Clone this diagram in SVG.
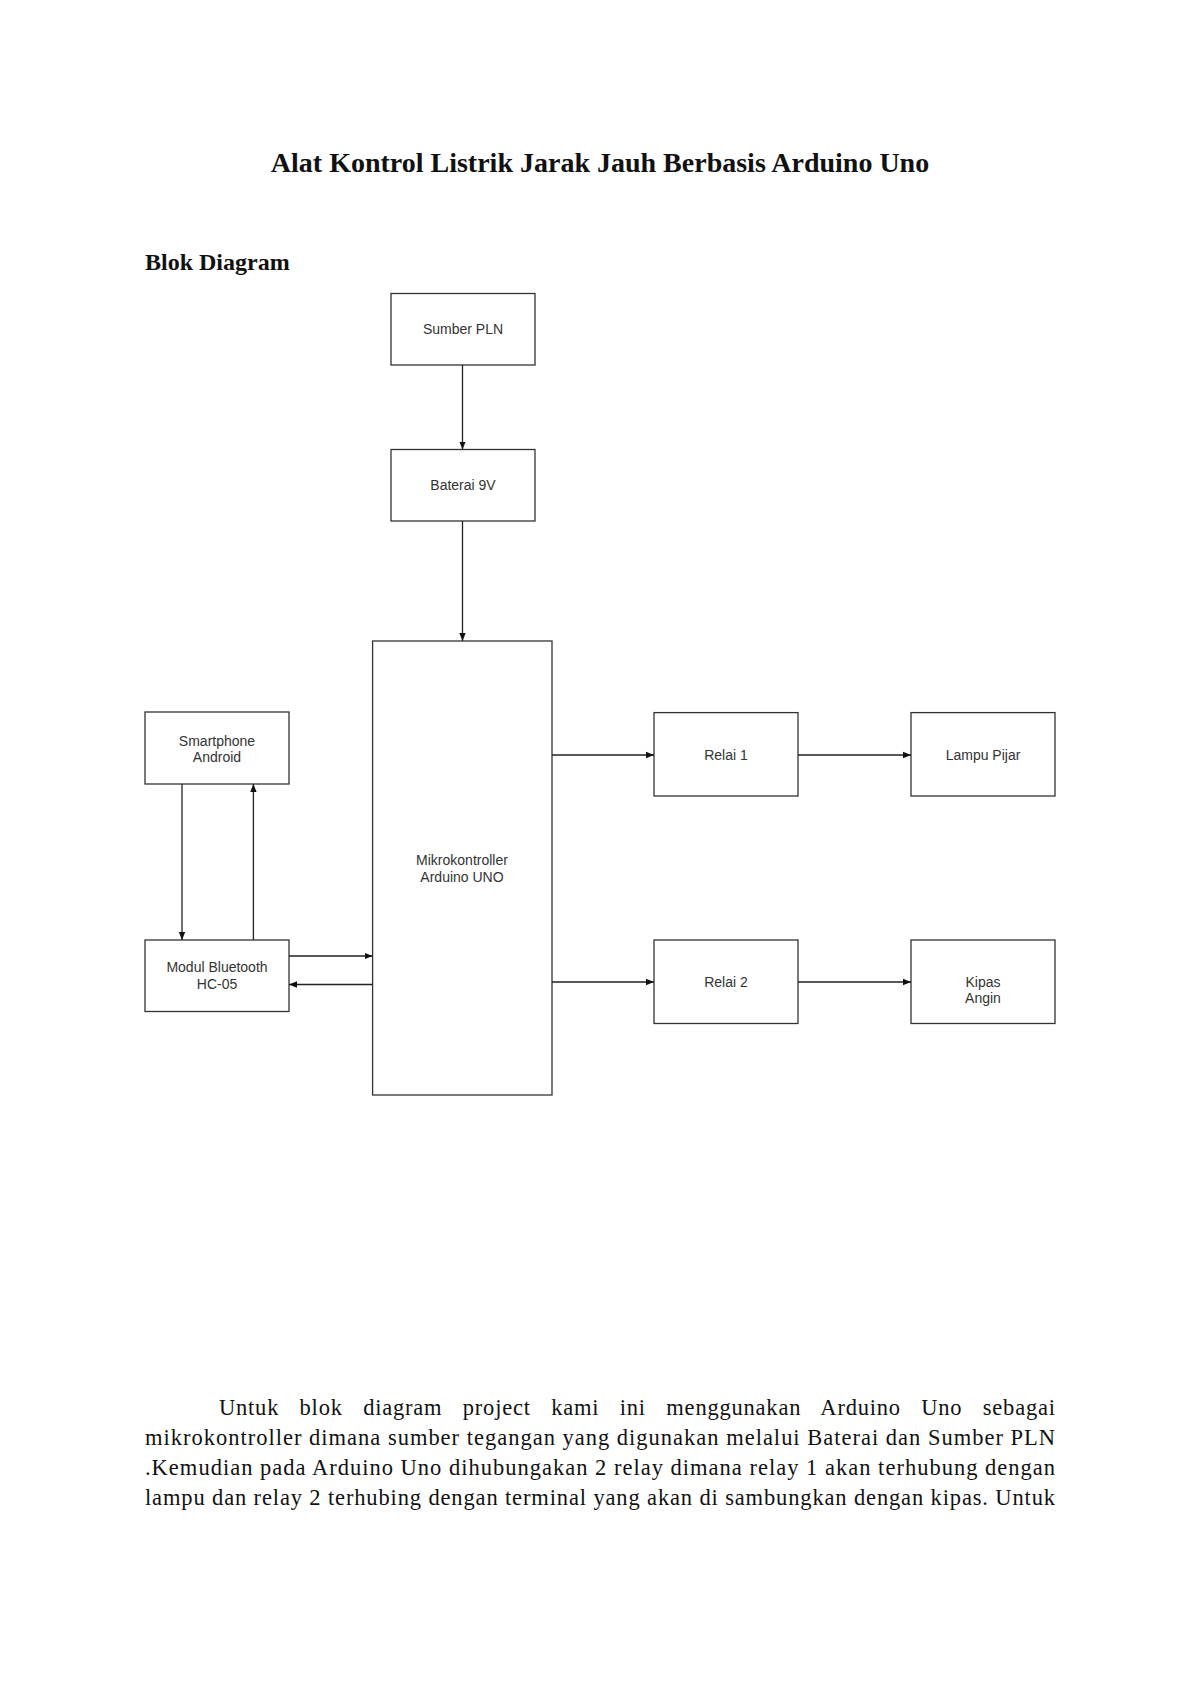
<svg xmlns="http://www.w3.org/2000/svg" width="1200" height="1696" viewBox="0 0 1200 1696">
<style>
.box{fill:#fff;stroke:#333;stroke-width:1.3}
.lbl{font-family:"Liberation Sans",Arial,sans-serif;font-size:14px;fill:#333;text-anchor:middle}
.ln{stroke:#222;stroke-width:1.3;fill:none}
.tm{font-family:"Liberation Serif","Times New Roman",serif;fill:#111}
</style>
<defs><marker id="ah" viewBox="0 0 10 10" refX="10" refY="5" markerWidth="8" markerHeight="8" orient="auto" markerUnits="userSpaceOnUse"><path d="M0,1 L10,5 L0,9 Z" fill="#111"/></marker></defs>
<rect width="1200" height="1696" fill="#fff"/>
<text class="tm" x="600" y="172" font-size="28" font-weight="bold" text-anchor="middle">Alat Kontrol Listrik Jarak Jauh Berbasis Arduino Uno</text>
<text class="tm" x="145" y="270" font-size="24" font-weight="bold">Blok Diagram</text>
<g id="sumber"><rect class="box" x="391" y="293.5" width="144" height="71.5"/><text class="lbl" x="463" y="334">Sumber PLN</text></g>
<g id="baterai"><rect class="box" x="391" y="449.5" width="144" height="71.5"/><text class="lbl" x="463" y="490">Baterai 9V</text></g>
<g id="mikro"><rect class="box" x="372.6" y="641" width="179.4" height="454"/><text class="lbl" x="462" y="865">Mikrokontroller</text><text class="lbl" x="462" y="882">Arduino UNO</text></g>
<g id="smartphone"><rect class="box" x="145" y="712" width="144" height="72"/><text class="lbl" x="217" y="746">Smartphone</text><text class="lbl" x="217" y="762">Android</text></g>
<g id="bluetooth"><rect class="box" x="145" y="940" width="144" height="71.5"/><text class="lbl" x="217" y="972">Modul Bluetooth</text><text class="lbl" x="217" y="989">HC-05</text></g>
<g id="relai1"><rect class="box" x="654" y="712.6" width="144" height="83.4"/><text class="lbl" x="726" y="759.5">Relai 1</text></g>
<g id="lampu"><rect class="box" x="911" y="712.6" width="144" height="83.4"/><text class="lbl" x="983" y="759.5">Lampu Pijar</text></g>
<g id="relai2"><rect class="box" x="654" y="940" width="144" height="83.5"/><text class="lbl" x="726" y="986.5">Relai 2</text></g>
<g id="kipas"><rect class="box" x="911" y="940" width="144" height="83.5"/><text class="lbl" x="983" y="987">Kipas</text><text class="lbl" x="983" y="1003">Angin</text></g>
<g id="connectors">
<line class="ln" x1="462.5" y1="365" x2="462.5" y2="449.5" marker-end="url(#ah)"/>
<line class="ln" x1="462.5" y1="521" x2="462.5" y2="641" marker-end="url(#ah)"/>
<line class="ln" x1="182" y1="784" x2="182" y2="940" marker-end="url(#ah)"/>
<line class="ln" x1="253.4" y1="940" x2="253.4" y2="784" marker-end="url(#ah)"/>
<line class="ln" x1="289" y1="956" x2="372.6" y2="956" marker-end="url(#ah)"/>
<line class="ln" x1="372.6" y1="984.5" x2="289" y2="984.5" marker-end="url(#ah)"/>
<line class="ln" x1="552" y1="755" x2="654" y2="755" marker-end="url(#ah)"/>
<line class="ln" x1="798" y1="755" x2="911" y2="755" marker-end="url(#ah)"/>
<line class="ln" x1="552" y1="982" x2="654" y2="982" marker-end="url(#ah)"/>
<line class="ln" x1="798" y1="982" x2="911" y2="982" marker-end="url(#ah)"/>
</g>
<g class="tm" font-size="22.5">
<text x="219" y="1415" textLength="836" lengthAdjust="spacing" word-spacing="14">Untuk blok diagram project kami ini menggunakan Arduino Uno sebagai</text>
<text x="145" y="1445" textLength="910" lengthAdjust="spacing">mikrokontroller dimana sumber tegangan yang digunakan melalui Baterai dan Sumber PLN</text>
<text x="145" y="1475" textLength="910" lengthAdjust="spacing">.Kemudian pada Arduino Uno dihubungakan 2 relay dimana relay 1 akan terhubung dengan</text>
<text x="145" y="1505" textLength="910" lengthAdjust="spacing">lampu dan relay 2 terhubing dengan terminal yang akan di sambungkan dengan kipas. Untuk</text>
</g>
</svg>
